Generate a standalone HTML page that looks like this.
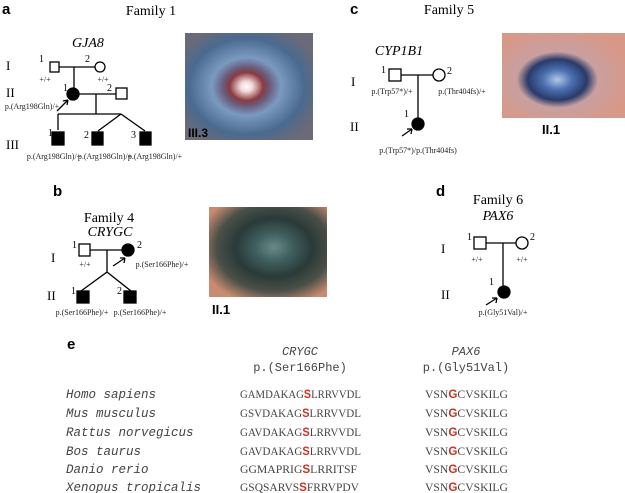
<!DOCTYPE html>
<html><head><style>body{margin:0;background:#fff}svg{display:block}</style></head><body>
<svg width="625" height="493" viewBox="0 0 625 493" xmlns="http://www.w3.org/2000/svg" font-family="Liberation Serif, serif">
<defs>
<radialGradient id="e1" cx="0.48" cy="0.5" r="0.6"><stop offset="0" stop-color="#fff"/><stop offset="0.08" stop-color="#f0d8d8"/><stop offset="0.22" stop-color="#8a3a40"/><stop offset="0.3" stop-color="#6a5a78"/><stop offset="0.45" stop-color="#7a9ac0"/><stop offset="0.75" stop-color="#4a6a90"/><stop offset="1" stop-color="#6a6a78"/></radialGradient>
<radialGradient id="e2" cx="0.55" cy="0.45" r="0.65"><stop offset="0" stop-color="#6a8a88"/><stop offset="0.25" stop-color="#3e5e5e"/><stop offset="0.5" stop-color="#2a3a38"/><stop offset="0.75" stop-color="#4a5048"/><stop offset="1" stop-color="#c88a70"/></radialGradient>
<radialGradient id="e3" cx="0.45" cy="0.55" r="0.6"><stop offset="0" stop-color="#b0c8e8"/><stop offset="0.2" stop-color="#4a70b0"/><stop offset="0.4" stop-color="#2a3a6a"/><stop offset="0.55" stop-color="#c8a0a0"/><stop offset="1" stop-color="#d89888"/></radialGradient>
</defs>
<g font-family="Liberation Sans, sans-serif" font-weight="bold" font-size="15">
<text x="2" y="14">a</text><text x="350" y="14">c</text><text x="53" y="196">b</text><text x="436" y="196">d</text><text x="67" y="349">e</text></g>
<g stroke="#000" stroke-width="1.3" fill="none">
<rect x="50" y="62" width="9" height="10" fill="#fff"/><circle cx="100" cy="67" r="5"/>
<path d="M59 67H95M74 67V89M79 94H116M96 94V114M58 114H121M58 114V130M121 114L98 131M121 114L145 131"/>
<circle cx="73" cy="94" r="6" fill="#000"/><rect x="116" y="88" width="11" height="11" fill="#fff"/>
<rect x="52" y="132" width="12" height="13" fill="#000"/><rect x="92" y="132" width="11" height="13" fill="#000"/><rect x="140" y="132" width="11" height="13" fill="#000"/>
<path d="M57 111L68 100M68 100l-5 1M68 100l-1 5"/>
<rect x="79" y="244" width="11" height="12" fill="#fff"/><path d="M90 250H122M107 250V272L81 291M107 272L131 291"/>
<circle cx="128" cy="250" r="6" fill="#000"/>
<rect x="77" y="291" width="12" height="12" fill="#000"/><rect x="124" y="291" width="12" height="12" fill="#000"/>
<path d="M113 266L125 258M125 258l-5 0M125 258l-1 5"/>
<rect x="389" y="69" width="12" height="12" fill="#fff"/><circle cx="439" cy="75" r="6"/>
<path d="M401 75H433M418 75V118"/><circle cx="418" cy="124" r="6" fill="#000"/>
<path d="M402 136L412 129M412 129l-5 0M412 129l-1 5"/>
<rect x="474" y="237" width="12" height="12" fill="#fff"/><circle cx="522" cy="243" r="6"/>
<path d="M486 243H516M503 243V286"/><circle cx="504" cy="292" r="6" fill="#000"/>
<path d="M486 305L497 298M497 298l-5 0M497 298l-1 5"/>
</g>
<rect x="185" y="33" width="128" height="107" fill="url(#e1)"/>
<text x="188" y="137" font-family="Liberation Sans, sans-serif" font-weight="bold" font-size="12">III.3</text>
<rect x="209" y="207" width="118" height="90" fill="url(#e2)"/>
<rect x="502" y="33" width="123" height="85" fill="url(#e3)"/>
<g font-family="Liberation Sans, sans-serif" font-weight="bold" font-size="13"><text x="212" y="314">II.1</text><text x="542" y="134">II.1</text></g>
<g font-size="14" text-anchor="middle"><text x="151" y="15">Family 1</text><text x="449" y="14">Family 5</text><text x="109" y="222">Family 4</text><text x="498" y="204">Family 6</text>
<g font-style="italic"><text x="88" y="47">GJA8</text><text x="110" y="236">CRYGC</text><text x="399" y="55">CYP1B1</text><text x="498" y="220">PAX6</text></g></g>
<g font-size="13"><text x="6" y="70">I</text><text x="6" y="97">II</text><text x="6" y="149">III</text><text x="51" y="262">I</text><text x="47" y="300">II</text><text x="351" y="86">I</text><text x="350" y="131">II</text><text x="441" y="253">I</text><text x="441" y="299">II</text></g>
<g font-size="10"><text x="39" y="62">1</text><text x="85" y="62">2</text><text x="63" y="91">1</text><text x="107" y="91">2</text><text x="48" y="136">1</text><text x="84" y="138">2</text><text x="131" y="138">3</text>
<text x="72" y="248">1</text><text x="137" y="248">2</text><text x="71" y="294">1</text><text x="117" y="294">2</text>
<text x="381" y="73">1</text><text x="447" y="74">2</text><text x="404" y="117">1</text>
<text x="467" y="240">1</text><text x="530" y="240">2</text><text x="489" y="285">1</text></g>
<g font-size="8" text-anchor="middle" fill="#222">
<text x="45" y="82">+/+</text><text x="103" y="82">+/+</text><text x="32" y="109">p.(Arg198Gln)/+</text>
<text x="54" y="159">p.(Arg198Gln)/+</text><text x="105" y="159">p.(Arg198Gln)/+</text><text x="155" y="159">p.(Arg198Gln)/+</text>
<text x="85" y="267">+/+</text><text x="162" y="267">p.(Ser166Phe)/+</text><text x="82" y="315">p.(Ser166Phe)/+</text><text x="140" y="315">p.(Ser166Phe)/+</text>
<text x="392" y="94">p.(Trp57*)/+</text><text x="462" y="94">p.(Thr404fs)/+</text><text x="418" y="153">p.(Trp57*)/p.(Thr404fs)</text>
<text x="477" y="262">+/+</text><text x="522" y="262">+/+</text><text x="503" y="315">p.(Gly51Val)/+</text></g>
<g font-family="Liberation Mono, monospace" font-size="12" fill="#444" text-anchor="middle">
<text x="300" y="355" font-style="italic">CRYGC</text><text x="300" y="371">p.(Ser166Phe)</text>
<text x="466" y="355" font-style="italic">PAX6</text><text x="466" y="371">p.(Gly51Val)</text></g>
<g font-family="Liberation Mono, monospace" font-style="italic" font-size="12.5" fill="#444">
<text x="66" y="398">Homo sapiens</text><text x="66" y="417">Mus musculus</text><text x="66" y="436">Rattus norvegicus</text><text x="66" y="455">Bos taurus</text><text x="66" y="473">Danio rerio</text><text x="66" y="491">Xenopus tropicalis</text></g>
<g font-size="11.5" fill="#444">
<text x="240" y="398" textLength="121" lengthAdjust="spacingAndGlyphs">GAMDAKAG<tspan fill="#d03020" font-weight="bold" font-family="Liberation Sans, sans-serif">S</tspan>LRRVVDL</text>
<text x="240" y="417" textLength="121" lengthAdjust="spacingAndGlyphs">GSVDAKAG<tspan fill="#d03020" font-weight="bold" font-family="Liberation Sans, sans-serif">S</tspan>LRRVVDL</text>
<text x="240" y="436" textLength="121" lengthAdjust="spacingAndGlyphs">GAVDAKAG<tspan fill="#d03020" font-weight="bold" font-family="Liberation Sans, sans-serif">S</tspan>LRRVVDL</text>
<text x="240" y="455" textLength="121" lengthAdjust="spacingAndGlyphs">GAVDAKAG<tspan fill="#d03020" font-weight="bold" font-family="Liberation Sans, sans-serif">S</tspan>LRRVVDL</text>
<text x="240" y="473" textLength="117" lengthAdjust="spacingAndGlyphs">GGMAPRIG<tspan fill="#d03020" font-weight="bold" font-family="Liberation Sans, sans-serif">S</tspan>LRRITSF</text>
<text x="240" y="491" textLength="119" lengthAdjust="spacingAndGlyphs">GSQSARVS<tspan fill="#d03020" font-weight="bold" font-family="Liberation Sans, sans-serif">S</tspan>FRRVPDV</text>
<text x="425" y="398" textLength="83" lengthAdjust="spacingAndGlyphs">VSN<tspan fill="#d03020" font-weight="bold" font-family="Liberation Sans, sans-serif">G</tspan>CVSKILG</text>
<text x="425" y="417" textLength="83" lengthAdjust="spacingAndGlyphs">VSN<tspan fill="#d03020" font-weight="bold" font-family="Liberation Sans, sans-serif">G</tspan>CVSKILG</text>
<text x="425" y="436" textLength="83" lengthAdjust="spacingAndGlyphs">VSN<tspan fill="#d03020" font-weight="bold" font-family="Liberation Sans, sans-serif">G</tspan>CVSKILG</text>
<text x="425" y="455" textLength="83" lengthAdjust="spacingAndGlyphs">VSN<tspan fill="#d03020" font-weight="bold" font-family="Liberation Sans, sans-serif">G</tspan>CVSKILG</text>
<text x="425" y="473" textLength="83" lengthAdjust="spacingAndGlyphs">VSN<tspan fill="#d03020" font-weight="bold" font-family="Liberation Sans, sans-serif">G</tspan>CVSKILG</text>
<text x="425" y="491" textLength="83" lengthAdjust="spacingAndGlyphs">VSN<tspan fill="#d03020" font-weight="bold" font-family="Liberation Sans, sans-serif">G</tspan>CVSKILG</text></g>
</svg>
</body></html>
